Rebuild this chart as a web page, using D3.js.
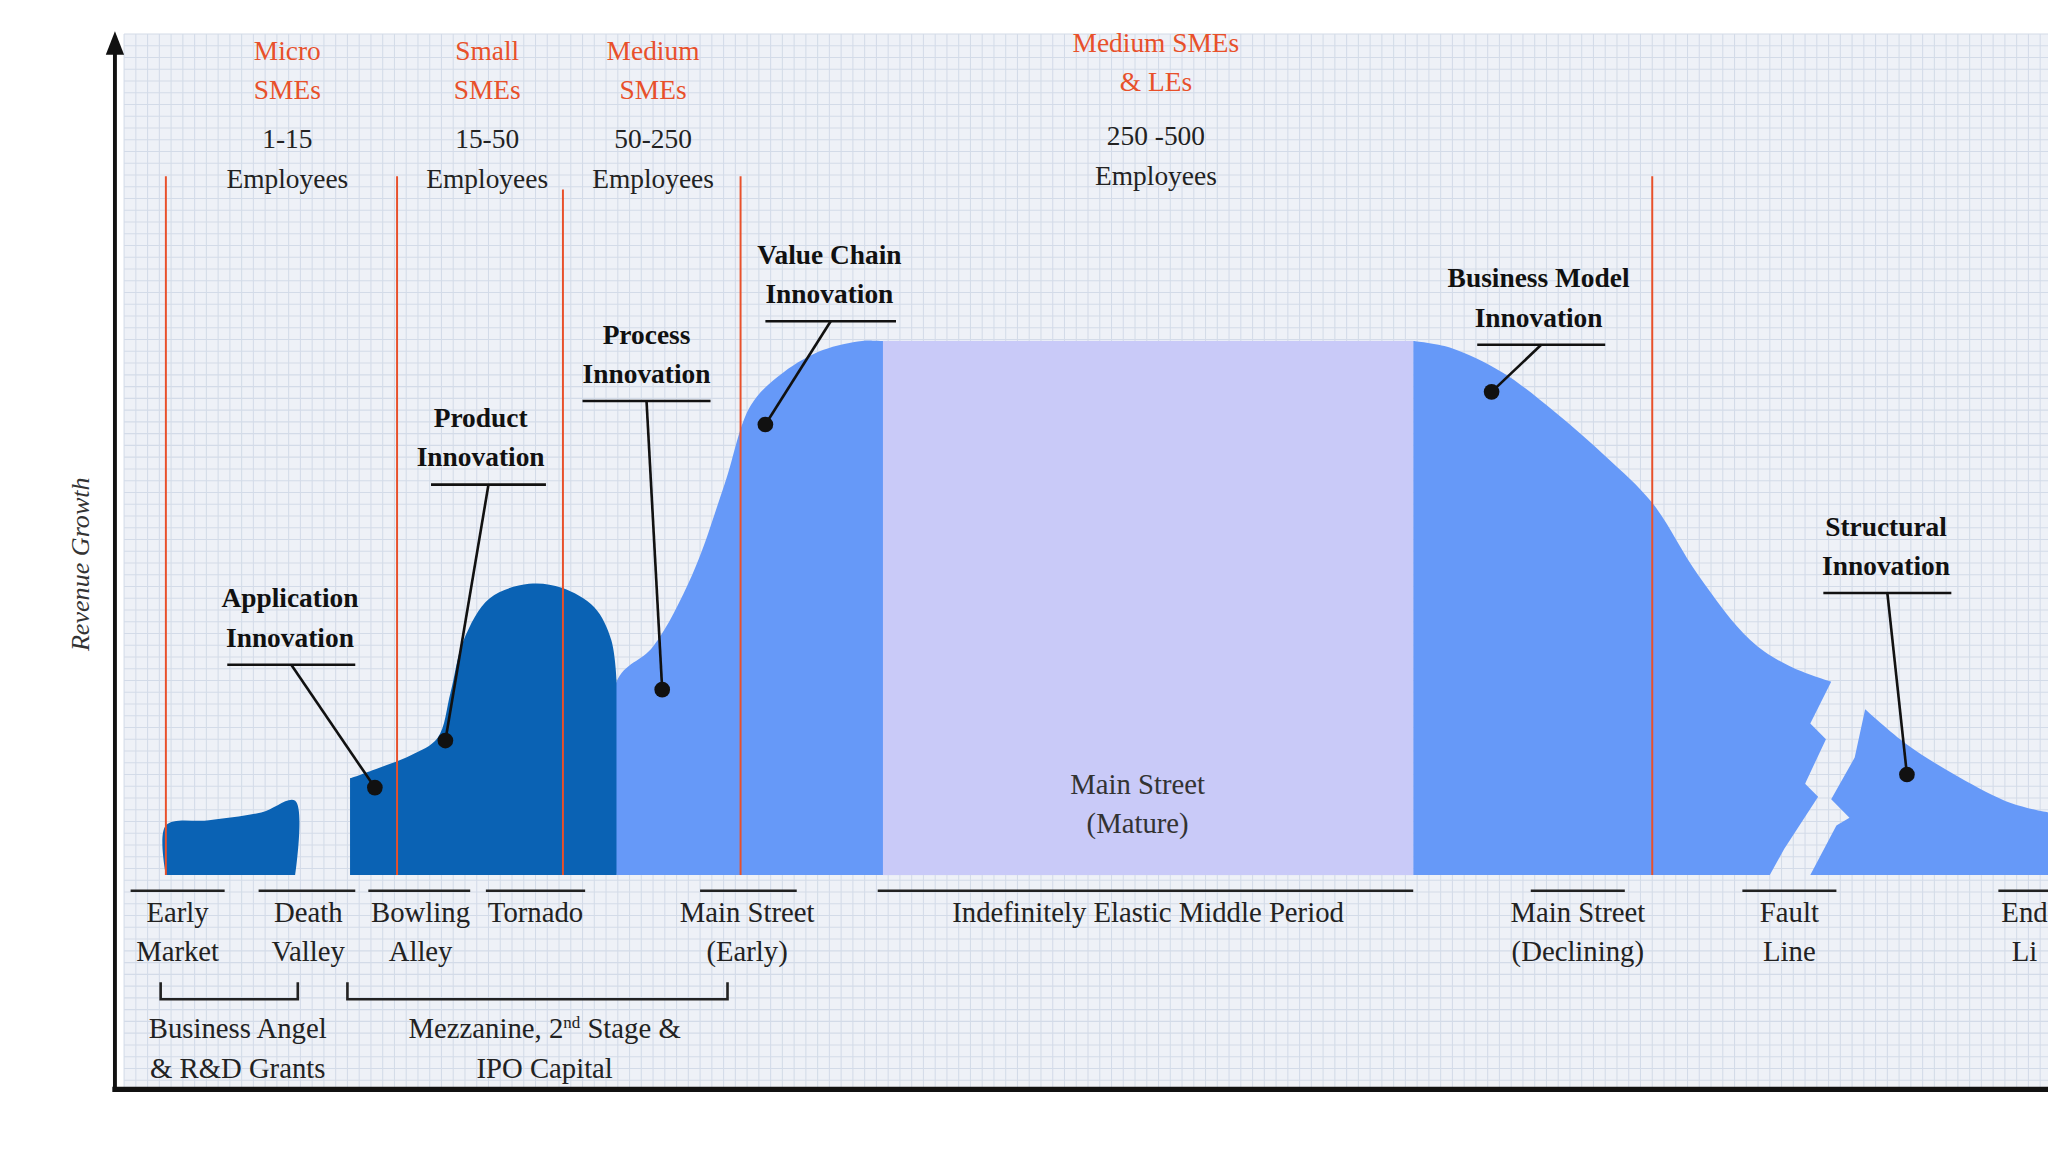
<!DOCTYPE html><html><head><meta charset="utf-8"><script src="https://cdn.jsdelivr.net/npm/d3@7"></script>
<style>body{margin:0;background:#fff}text{font-family:"Liberation Serif","DejaVu Serif",serif}</style></head><body>
<svg id="c" width="2048" height="1152" viewBox="0 0 1568 882"></svg>
<script>
// data: positions along lifecycle (t) and revenue level (v)
const earlyMarket=[[127,38],[160,42],[200,48],[226,57]];
const tornado=[[268,74],[290,82],[315,92],[335,105],[345,140],[355,180],[375,212],[405,223],[430,220],[455,205],[468,180],[472,150]];
const growthRise=[[472,148],[500,175],[530,230],[555,300],[575,360],[600,385],[630,402],[660,409],[676,409]];
const decline=[[1082,409],[1110,404],[1150,385],[1190,355],[1230,320],[1265,285],[1300,230],[1340,180],[1370,160],[1402,148],[1386,116],[1398,104],[1382,70],[1392,60],[1366,20],[1355,0]];
const structural=[[1386,0],[1406,38],[1416,44],[1402,58],[1420,90],[1428,127],[1460,100],[1500,75],[1540,55],[1568,48],[1568,0]];
const matureSpan=[676,1082,409];
const redLines=[[127,535],[304,535],[431,525],[567,535],[1265,535]];
const sizeLabels=[{t:220,red:["Micro","SMEs"],blk:["1-15","Employees"]},{t:373,red:["Small","SMEs"],blk:["15-50","Employees"]},{t:500,red:["Medium","SMEs"],blk:["50-250","Employees"]},{t:885,red:["Medium SMEs","& LEs"],blk:["250 -500","Employees"]}];
const innovations=[{lines:["Application","Innovation"],t:222,v:205,bar:[174,272],dot:[287,67]},{lines:["Product","Innovation"],t:368,v:343,bar:[330,418],dot:[341,103]},{lines:["Process","Innovation"],t:495,v:407,bar:[446,544],dot:[507,142]},{lines:["Value Chain","Innovation"],t:635,v:468,bar:[586,686],dot:[586,345]},{lines:["Business Model","Innovation"],t:1178,v:450,bar:[1131,1229],dot:[1142,370]},{lines:["Structural","Innovation"],t:1444,v:260,bar:[1396,1494],dot:[1460,77]}];
const stages=[{l:["Early","Market"],t:136,s:[100,172]},{l:["Death","Valley"],t:236,s:[198,272]},{l:["Bowling","Alley"],t:322,s:[282,360]},{l:["Tornado",""],t:410,s:[372,448]},{l:["Main Street","(Early)"],t:572,s:[536,610]},{l:["Indefinitely Elastic Middle Period",""],t:879,s:[672,1082]},{l:["Main Street","(Declining)"],t:1208,s:[1172,1244]},{l:["Fault","Line"],t:1370,s:[1334,1406]},{l:["End","Li"],t:1550,s:[1530,1568]}];
const funding=[{l:["Business Angel","& R&D Grants"],t:182,s:[123,228]},{l:["Mezzanine, 2nd Stage &","IPO Capital"],t:417,s:[266,557]}];

const svg=d3.select("#c");
const x=d3.scaleLinear().domain([0,1568]).range([0,1568]);
const y=d3.scaleLinear().domain([0,640]).range([670,30]);
// background grid
svg.append("rect").attr("x",95).attr("y",26).attr("width",1473).attr("height",809).attr("fill","#eef1f7");
const g=svg.append("g").attr("stroke","#d3dbe8").attr("stroke-width",0.8);
d3.range(95,1568,9).forEach(v=>g.append("line").attr("x1",v).attr("x2",v).attr("y1",26).attr("y2",835));
d3.range(26,835,9).forEach(v=>g.append("line").attr("y1",v).attr("y2",v).attr("x1",95).attr("x2",1568));
const area=pts=>{const p=[[pts[0][0],0],...pts,[pts[pts.length-1][0],0]];return d3.line().x(d=>x(d[0])).y(d=>y(d[1])).curve(d3.curveCatmullRom.alpha(0.5))(p)};
const poly=pts=>d3.line().x(d=>x(d[0])).y(d=>y(d[1]))(pts);
const light="#6699f8",dark="#0a62b4";
svg.append("path").attr("d",area(earlyMarket)).attr("fill",dark);
svg.append("path").attr("d",d3.line().x(d=>x(d[0])).y(d=>y(d[1])).curve(d3.curveCatmullRom)([[472,0],...growthRise,[1082,409]])+"L"+x(1082)+","+y(0)+"Z").attr("fill",light);
svg.append("path").attr("d",d3.line().x(d=>x(d[0])).y(d=>y(d[1])).curve(d3.curveCatmullRom)(decline.slice(0,10))+"L"+decline.slice(10).map(d=>x(d[0])+","+y(d[1])).join("L")+"L"+x(1082)+","+y(0)+"Z").attr("fill",light);
svg.append("path").attr("d",poly(structural.slice(0,5))+"L"+d3.line().x(d=>x(d[0])).y(d=>y(d[1])).curve(d3.curveCatmullRom)(structural.slice(5,10)).slice(1)+"L"+x(1568)+","+y(0)+"Z").attr("fill",light);
svg.append("path").attr("d",d3.line().x(d=>x(d[0])).y(d=>y(d[1])).curve(d3.curveCatmullRom)(tornado)+"L"+x(472)+","+y(0)+"L"+x(268)+","+y(0)+"Z").attr("fill",dark);
svg.append("rect").attr("x",x(matureSpan[0])).attr("y",y(matureSpan[2])).attr("width",x(matureSpan[1])-x(matureSpan[0])).attr("height",y(0)-y(matureSpan[2])).attr("fill","#c9caf8");
svg.append("text").attr("x",871).attr("y",608).attr("text-anchor","middle").attr("font-size",22).attr("fill","#333").text("Main Street");
svg.append("text").attr("x",871).attr("y",638).attr("text-anchor","middle").attr("font-size",22).attr("fill","#333").text("(Mature)");
redLines.forEach(([t,v])=>svg.append("line").attr("x1",x(t)).attr("x2",x(t)).attr("y1",y(v)).attr("y2",y(0)).attr("stroke","#e8502a").attr("stroke-width",1.5));
sizeLabels.forEach(d=>{const two=d.red[0].length>8;const y0=two?48:53;
 d.red.forEach((s,i)=>svg.append("text").attr("x",d.t).attr("y",(two?40:46)+i*30).attr("text-anchor","middle").attr("font-size",21).attr("fill","#e8502a").text(s));
 d.blk.forEach((s,i)=>svg.append("text").attr("x",d.t).attr("y",(two?111:113)+i*31).attr("text-anchor","middle").attr("font-size",21).attr("fill","#222").text(s));});
innovations.forEach(d=>{const ty=y(d.v);
 d.lines.forEach((s,i)=>svg.append("text").attr("x",d.t).attr("y",ty+i*30).attr("text-anchor","middle").attr("font-size",21).attr("font-weight","bold").attr("fill","#111").text(s));
 const by=ty+44;svg.append("line").attr("x1",d.bar[0]).attr("x2",d.bar[1]).attr("y1",by).attr("y2",by).attr("stroke","#111").attr("stroke-width",2);
 const mx=(d.bar[0]+d.bar[1])/2;svg.append("line").attr("x1",mx).attr("y1",by).attr("x2",x(d.dot[0])).attr("y2",y(d.dot[1])).attr("stroke","#111").attr("stroke-width",2);
 svg.append("circle").attr("cx",x(d.dot[0])).attr("cy",y(d.dot[1])).attr("r",6).attr("fill","#111");});
stages.forEach(d=>{svg.append("line").attr("x1",d.s[0]).attr("x2",d.s[1]).attr("y1",682).attr("y2",682).attr("stroke","#222").attr("stroke-width",2);
 d.l.forEach((s,i)=>svg.append("text").attr("x",d.t).attr("y",706+i*30).attr("text-anchor","middle").attr("font-size",22).attr("fill","#222").text(s));});
funding.forEach(d=>{svg.append("path").attr("d",`M${d.s[0]},752V765H${d.s[1]}V752`).attr("fill","none").attr("stroke","#222").attr("stroke-width",2);
 d.l.forEach((s,i)=>{const t=svg.append("text").attr("x",d.t).attr("y",795+i*30).attr("text-anchor","middle").attr("font-size",22).attr("fill","#222");
  if(s.includes("2nd")){t.append("tspan").text("Mezzanine, 2");t.append("tspan").attr("font-size",13).attr("dy",-8).text("nd");t.append("tspan").attr("dy",8).text(" Stage &");}else t.text(s);});});
// axes
svg.append("line").attr("x1",88).attr("x2",88).attr("y1",835).attr("y2",36).attr("stroke","#111").attr("stroke-width",3);
svg.append("path").attr("d","M81,42L88,24L95,42Z").attr("fill","#111");
svg.append("line").attr("x1",86).attr("x2",1568).attr("y1",834).attr("y2",834).attr("stroke","#111").attr("stroke-width",4);
svg.append("text").attr("transform","translate(68,432) rotate(-90)").attr("text-anchor","middle").attr("font-size",20).attr("font-style","italic").attr("fill","#333").text("Revenue Growth");
</script></body></html>
